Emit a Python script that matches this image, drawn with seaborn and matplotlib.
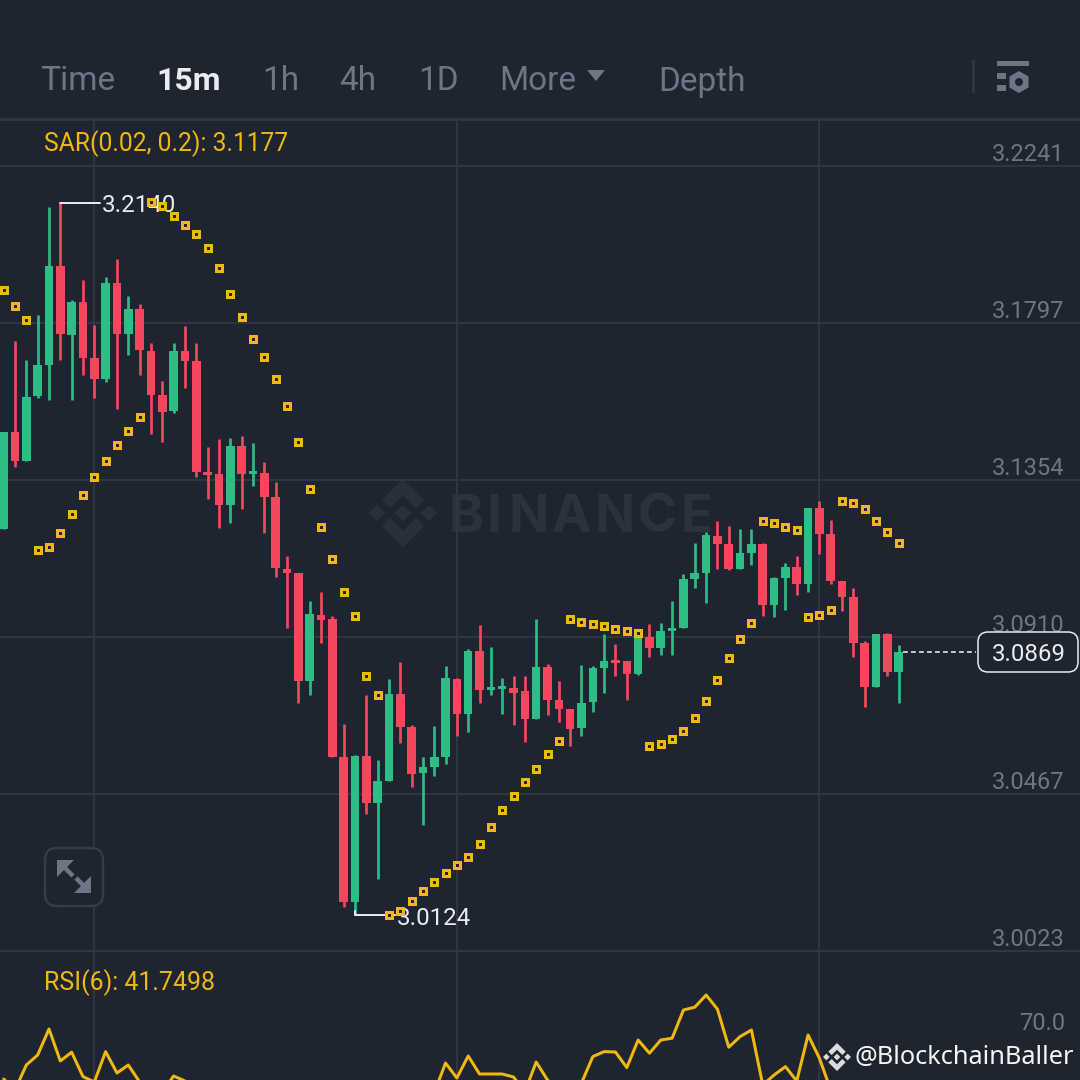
import numpy as np
import pandas as pd
import seaborn as sns
import matplotlib.pyplot as plt
from matplotlib.patches import Polygon, FancyBboxPatch, RegularPolygon, Circle, Rectangle

# candles, 15m
opens = [3.1215, 3.1490, 3.1408, 3.1591, 3.1679, 3.1958, 3.1764, 3.1858, 3.1698, 3.1640,
         3.1910, 3.1767, 3.1838, 3.1718, 3.1594, 3.1549, 3.1718, 3.1689, 3.1375, 3.1371,
         3.1283, 3.1451, 3.1371, 3.1374, 3.1305, 3.1103, 3.1091, 3.0787, 3.0973, 3.0960,
         3.0571, 3.0161, 3.0575, 3.0441, 3.0503, 3.0748, 3.0657, 3.0525, 3.0543, 3.0572,
         3.0792, 3.0692, 3.0870, 3.0760, 3.0764, 3.0765, 3.0757, 3.0679, 3.0825, 3.0732,
         3.0707, 3.0653, 3.0726, 3.0822, 3.0844, 3.0842, 3.0806, 3.0909, 3.0879, 3.0928,
         3.0935, 3.1074, 3.1091, 3.1196, 3.1173, 3.1101, 3.1148, 3.1173, 3.1001, 3.1076,
         3.1109, 3.1061, 3.1275, 3.1200, 3.1068, 3.1023, 3.0893, 3.0770, 3.0920, 3.0812]
highs = [3.1490, 3.1747, 3.1693, 3.1819, 3.2124, 3.2137, 3.1862, 3.1919, 3.1792, 3.1928,
         3.1978, 3.1874, 3.1850, 3.1740, 3.1633, 3.1740, 3.1789, 3.1740, 3.1446, 3.1470,
         3.1472, 3.1478, 3.1458, 3.1405, 3.1348, 3.1139, 3.1091, 3.1011, 3.1037, 3.0969,
         3.0665, 3.0577, 3.0746, 3.0564, 3.0792, 3.0839, 3.0661, 3.0572, 3.0658, 3.0829,
         3.0793, 3.0875, 3.0944, 3.0883, 3.0795, 3.0800, 3.0799, 3.0961, 3.0833, 3.0787,
         3.0707, 3.0832, 3.0829, 3.0918, 3.0891, 3.0842, 3.0921, 3.0946, 3.0949, 3.1011,
         3.1087, 3.1175, 3.1207, 3.1237, 3.1223, 3.1216, 3.1214, 3.1175, 3.1080, 3.1118,
         3.1139, 3.1275, 3.1295, 3.1242, 3.1068, 3.1049, 3.0898, 3.0920, 3.0922, 3.0887]
lows = [3.1215, 3.1391, 3.1407, 3.1585, 3.1580, 3.1693, 3.1580, 3.1651, 3.1586, 3.1632,
        3.1554, 3.1707, 3.1651, 3.1485, 3.1460, 3.1544, 3.1613, 3.1361, 3.1300, 3.1219,
        3.1231, 3.1272, 3.1337, 3.1203, 3.1079, 3.0936, 3.0725, 3.0747, 3.0892, 3.0571,
        3.0148, 3.0125, 3.0409, 3.0227, 3.0503, 3.0610, 3.0487, 3.0379, 3.0518, 3.0551,
        3.0630, 3.0642, 3.0724, 3.0746, 3.0692, 3.0661, 3.0614, 3.0679, 3.0691, 3.0670,
        3.0602, 3.0631, 3.0699, 3.0753, 3.0800, 3.0732, 3.0803, 3.0855, 3.0859, 3.0860,
        3.0935, 3.1050, 3.1005, 3.1103, 3.1100, 3.1101, 3.1114, 3.0969, 3.0967, 3.0987,
        3.1029, 3.1038, 3.1145, 3.1060, 3.0983, 3.0853, 3.0712, 3.0769, 3.0800, 3.0725]
closes = [3.1490, 3.1407, 3.1589, 3.1678, 3.1958, 3.1765, 3.1857, 3.1698, 3.1639, 3.1910,
          3.1766, 3.1838, 3.1720, 3.1594, 3.1547, 3.1718, 3.1690, 3.1375, 3.1368, 3.1283,
          3.1450, 3.1371, 3.1378, 3.1305, 3.1104, 3.1091, 3.0787, 3.0975, 3.0958, 3.0572,
          3.0161, 3.0575, 3.0442, 3.0503, 3.0748, 3.0657, 3.0524, 3.0543, 3.0571, 3.0793,
          3.0693, 3.0870, 3.0761, 3.0768, 3.0772, 3.0753, 3.0678, 3.0825, 3.0733, 3.0707,
          3.0651, 3.0725, 3.0822, 3.0843, 3.0837, 3.0807, 3.0911, 3.0879, 3.0927, 3.0936,
          3.1074, 3.1090, 3.1198, 3.1174, 3.1102, 3.1147, 3.1174, 3.1001, 3.1076, 3.1108,
          3.1061, 3.1275, 3.1201, 3.1068, 3.1024, 3.0893, 3.0770, 3.0920, 3.0811, 3.0869]

sar = [3.1891, 3.1846, 3.1805, 3.1156, 3.1165, 3.1203, 3.1259, 3.1311, 3.1361, 3.1407,
       3.1452, 3.1493, 3.1532, 3.2138, 3.2127, 3.2100, 3.2074, 3.2050, 3.2008, 3.1952,
       3.1878, 3.1813, 3.1753, 3.1700, 3.1640, 3.1562, 3.1462, 3.1329, 3.1220, 3.1131,
       3.1038, 3.0969, 3.0801, 3.0747, 3.0125, 3.0137, 3.0165, 3.0192, 3.0217, 3.0242,
       3.0267, 3.0289, 3.0324, 3.0374, 3.0421, 3.0462, 3.0501, 3.0536, 3.0579, 3.0617,
       3.0961, 3.0953, 3.0948, 3.0940, 3.0933, 3.0927, 3.0921, 3.0602, 3.0609, 3.0622,
       3.0645, 3.0681, 3.0730, 3.0788, 3.0851, 3.0905, 3.0951, 3.1237, 3.1231, 3.1221,
       3.1212, 3.0967, 3.0973, 3.0986, 3.1295, 3.1290, 3.1271, 3.1239, 3.1207, 3.1177]

# values under about 47 run off the bottom of the picture, those are rough
rsi = [48, 42.5, 55, 60, 73, 57, 61.4, 49.2, 46.5, 61.7,
       51, 55, 46.5, 37.5, 41.5, 49.5, 47, 32.5, 31.5, 28.5,
       35, 33, 36, 30, 26, 27, 20, 30, 28, 22,
       15, 32, 30, 33, 38, 36, 32, 36, 41, 56,
       48.5, 59.5, 50.5, 50.5, 50.5, 49, 41.5, 56.5, 47.5, 42.5,
       40, 46, 59.2, 61.7, 61.5, 53.7, 67.5, 60.9, 67.5, 68.4,
       82.5, 83.9, 90, 82.9, 63.9, 69.2, 72.5, 45, 50, 54.2,
       47, 70, 58.4, 42.5, 37.5, 30, 31.5, 38.5, 45, 41.7498]

price_ticks = [3.2241, 3.1797, 3.1354, 3.0910, 3.0467, 3.0023]
time_ticks = [8, 40, 72]
menu_labels = ["Time", "15m", "1h", "4h", "1D", "More", "Depth"]

BG = "#1f2530"
GRID = "#303641"
MUTED = "#6e7583"
GREEN = "#2ebd85"
RED = "#f6465d"
YELLOW = "#f0b90b"
PX = 72 / 100  # one pixel in points

sns.set_theme(style="darkgrid", rc={
    "figure.facecolor": BG,
    "axes.facecolor": "none",
    "grid.color": GRID,
    "grid.linewidth": 2 * PX,
    "axes.edgecolor": BG,
})
plt.rcParams["font.family"] = ["Roboto", "DejaVu Sans"]

df = pd.DataFrame({"i": np.arange(len(opens)), "open": opens, "high": highs, "low": lows,
                   "close": closes, "sar": sar, "rsi": rsi})
df["up"] = df["close"] >= df["open"]
df["color"] = np.where(df["up"], GREEN, RED)

fig = plt.figure(figsize=(10.8, 10.8), dpi=100)
W, H = 1080, 1080


def panel(top, bottom, z):
    return fig.add_axes([0, 1 - bottom / H, 1, (bottom - top) / H], zorder=z)


# page chrome under and over the chart, in pixel coordinates
under = fig.add_axes([0, 0, 1, 1], zorder=0)
over = fig.add_axes([0, 0, 1, 1], zorder=5)
for a in (under, over):
    a.set_xlim(0, W)
    a.set_ylim(H, 0)
    a.axis("off")


def logo(a, cx, cy, r, color, z=2):
    def poly(pts):
        a.add_patch(Polygon([(cx + r * u, cy + r * v) for u, v in pts], closed=True,
                            fc=color, ec="none", zorder=z))
    for dx in (-0.76, 0, 0.76):
        poly([(dx, -0.24), (dx + 0.24, 0), (dx, 0.24), (dx - 0.24, 0)])
    for s in (-1, 1):
        poly([(0, s), (0.62, s * 0.38), (0.38, s * 0.14), (0, s * 0.52),
              (-0.38, s * 0.14), (-0.62, s * 0.38)])


logo(under, 403, 513, 34, "#2a303b")
# the watermark is letter spaced, so one text per letter
for ch, x in zip("BINANCE", [448, 486, 508, 551.5, 594, 637.5, 681]):
    under.text(x, 532, ch, color="#2c323d", fontsize=38, fontweight="bold",
               family=["Inter", "DejaVu Sans"], ha="left", va="baseline")

# candles
ax = panel(120, 953, 2)
xlim = (-0.324, 95.0)
ax.vlines(df["i"], df["low"], df["high"], colors=df["color"], linewidth=2.7 * PX, zorder=3)
ax.bar(df["i"], (df["close"] - df["open"]).abs(), bottom=df[["open", "close"]].min(axis=1),
       width=0.76, color=df["color"], linewidth=0, zorder=3)
sns.scatterplot(data=df, x="i", y="sar", ax=ax, marker="s", s=16, color=BG, edgecolor=YELLOW,
                linewidth=3 * PX, zorder=5, legend=False)
ax.collections[-1].set_joinstyle("miter")
ax.set_xlim(*xlim)
ax.set_ylim(3.00173, 3.2371)
ax.set_xticks(time_ticks)
ax.set_yticks(price_ticks)
ax.set_yticklabels([f"{v:.4f}" for v in price_ticks], color=MUTED, fontsize=17, va="bottom")
ax.yaxis.tick_right()
ax.tick_params(axis="y", length=0, pad=-63.5)
ax.tick_params(axis="x", length=0, labelbottom=False)
ax.set_xlabel("")
ax.set_ylabel("")
ax.grid(True, zorder=0)
ax.set_axisbelow(True)

# high and low flags
hi = int(np.argmax(highs))
lo = int(np.argmin(lows))
ax.plot([hi, hi + 3.5], [highs[hi]] * 2, color="#e6e8ea", lw=2 * PX, zorder=4)
ax.text(hi + 3.7, highs[hi] - 0.0007, f"{highs[hi] + 0.0003:.4f}", color="#eaecef", fontsize=17.4, va="center", zorder=4)
ax.plot([lo, lo, lo + 3.5], [lows[lo] + 0.0012, lows[lo], lows[lo]], color="#e6e8ea", lw=2 * PX, zorder=4)
ax.text(lo + 3.7, lows[lo] - 0.0010, f"{lows[lo] - 0.0001:.4f}", color="#eaecef", fontsize=17.4, va="center", zorder=4)

# last price
ax.plot([df["i"].iloc[-1] + 0.4, 85.8], [closes[-1]] * 2, color="#eaecef", lw=1.6 * PX, ls=(0, (3, 2)), zorder=4)

# rsi panel
rx = panel(951, 1080, 2)
sns.lineplot(data=df, x="i", y="rsi", ax=rx, color=YELLOW, linewidth=3 * PX, zorder=4)
rx.set_xlim(*xlim)
rx.set_ylim(47.5, 112)
rx.set_xticks(time_ticks)
rx.set_yticks([70])
rx.set_yticklabels(["70.0"], color=MUTED, fontsize=17, va="bottom")
rx.yaxis.tick_right()
rx.tick_params(axis="y", length=0, pad=-44)
rx.tick_params(axis="x", length=0, labelbottom=False)
rx.grid(False, axis="y")
rx.set_xlabel("")
rx.set_ylabel("")

for a in (ax, rx):
    for sp in a.spines.values():
        sp.set_visible(False)

# legends
over.text(44, 143.5, "SAR(0.02, 0.2): 3.1177", color=YELLOW, fontsize=17.7, va="center", zorder=6)
over.text(44, 982.5, "RSI(6): 41.7498", color=YELLOW, fontsize=17.9, va="center", zorder=6)

# header
over.add_patch(Rectangle((0, 0), W, 118, fc=BG, ec="none", zorder=1))
over.add_patch(Rectangle((0, 118), W, 3, fc=GRID, ec="none", zorder=1))
for label, x in zip(menu_labels, [40, 156, 262, 339, 418, 499, 658]):
    active = label == "15m"
    over.text(x, 90.5, label, color="#eaecef" if active else MUTED, fontsize=23 if active else 24,
              fontweight="bold" if active else "normal", va="baseline", zorder=2)
over.add_patch(Polygon([(587, 70), (605, 70), (596, 81)], closed=True, fc=MUTED, ec="none", zorder=2))
over.add_patch(Rectangle((972, 60), 2.5, 33, fc=GRID, ec="none", zorder=2))
over.add_patch(Rectangle((997, 61), 32, 5, fc=MUTED, ec="none", zorder=2))
over.add_patch(Rectangle((997, 73), 9, 6, fc=MUTED, ec="none", zorder=2))
over.add_patch(Rectangle((997, 85), 9, 6, fc=MUTED, ec="none", zorder=2))
over.add_patch(RegularPolygon((1019, 82), 6, radius=11, fc=MUTED, ec="none", zorder=2))
over.add_patch(Circle((1019, 82), 4, fc=BG, ec="none", zorder=3))

# expand button
over.add_patch(FancyBboxPatch((53, 856), 42, 42, boxstyle="round,pad=8,rounding_size=12", fc=BG, ec="#353b47", lw=2.5 * PX, zorder=1))
over.add_patch(Polygon([(57, 860), (74, 860), (57, 877)], closed=True, fc=MUTED, ec="none", zorder=2))
over.add_patch(Polygon([(91, 893), (74, 893), (91, 876)], closed=True, fc=MUTED, ec="none", zorder=2))
over.plot([64, 73], [867, 876], color=MUTED, lw=4.5 * PX, solid_capstyle="butt", zorder=2)
over.plot([76, 84], [878, 886], color=MUTED, lw=4.5 * PX, solid_capstyle="butt", zorder=2)

# last price tag
over.add_patch(FancyBboxPatch((986, 640), 84, 24, boxstyle="round,pad=8,rounding_size=10", fc=BG, ec="#eaecef", lw=1.5 * PX, zorder=3))
over.text(1028.5, 654.5, f"{closes[-1]:.4f}", color="#eaecef", fontsize=17.3, ha="center", va="center", zorder=4)

# watermark of the poster
logo(over, 837, 1057, 14, "#dcdcdc", z=4)
over.text(855, 1057, "@BlockchainBaller", color="#f5f5f5", fontsize=18.2, family=["Noto Sans", "DejaVu Sans"], va="center", zorder=4)

fig.savefig("out.png", dpi=100, facecolor=BG)
